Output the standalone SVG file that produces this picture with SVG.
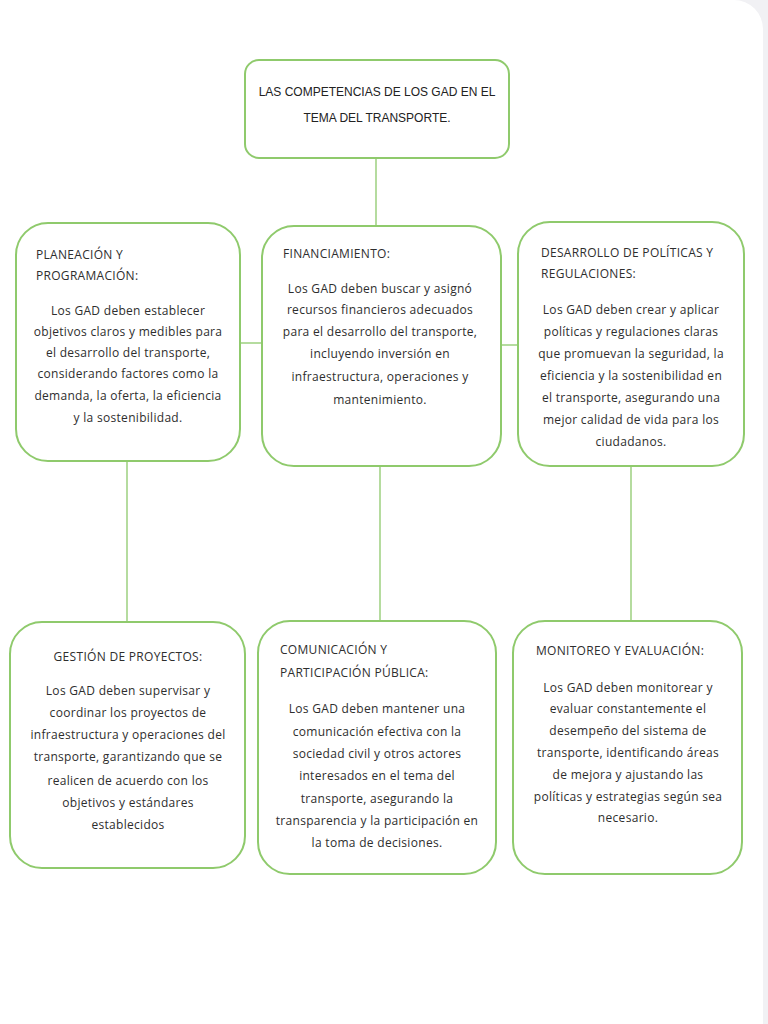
<svg xmlns="http://www.w3.org/2000/svg" width="768" height="1024" viewBox="0 0 768 1024">
<style>
.box{fill:#ffffff;stroke:#8fca6c;stroke-width:2}
.con{stroke:#a3d387;stroke-width:1.6;fill:none}
.t{font-family:"Open Sans","Liberation Sans",sans-serif;font-size:12px;fill:#2e2e2e;letter-spacing:0.3px}
.h{font-family:"Liberation Sans",Arial,sans-serif;font-size:12px;fill:#222222}
.c{text-anchor:middle}
</style>
<rect x="0" y="0" width="768" height="1024" fill="#f1f1f4"/>
<rect x="-40" y="0" width="803" height="1100" rx="29" fill="#ffffff"/>
<g id="connectors">
<line class="con" x1="376" y1="158" x2="376" y2="226"/>
<line class="con" x1="240" y1="343" x2="262" y2="343"/>
<line class="con" x1="501" y1="345" x2="518" y2="345"/>
<line class="con" x1="127" y1="461" x2="127" y2="622"/>
<line class="con" x1="380" y1="466" x2="380" y2="621"/>
<line class="con" x1="631" y1="466" x2="631" y2="621"/>
</g>
<g id="root">
<rect class="box" x="245" y="60" width="264" height="98" rx="14"/>
<text class="h c" x="377" y="96">LAS COMPETENCIAS DE LOS GAD EN EL</text>
<text class="h c" x="377" y="122">TEMA DEL TRANSPORTE.</text>
</g>
<g id="planeacion">
<rect class="box" x="16" y="223" width="224" height="238" rx="32"/>
<text class="t" x="36" y="259">PLANEACIÓN Y</text>
<text class="t" x="36" y="280">PROGRAMACIÓN:</text>
<text class="t c" x="128" y="315">Los GAD deben establecer</text>
<text class="t c" x="128" y="336">objetivos claros y medibles para</text>
<text class="t c" x="128" y="357">el desarrollo del transporte,</text>
<text class="t c" x="128" y="378">considerando factores como la</text>
<text class="t c" x="128" y="400">demanda, la oferta, la eficiencia</text>
<text class="t c" x="128" y="422">y la sostenibilidad.</text>
</g>
<g id="financiamiento">
<rect class="box" x="262" y="226" width="239" height="240" rx="32"/>
<text class="t" x="283" y="258">FINANCIAMIENTO:</text>
<text class="t c" x="380" y="293">Los GAD deben buscar y asignó</text>
<text class="t c" x="380" y="314">recursos financieros adecuados</text>
<text class="t c" x="380" y="336">para el desarrollo del transporte,</text>
<text class="t c" x="380" y="358">incluyendo inversión en</text>
<text class="t c" x="380" y="381">infraestructura, operaciones y</text>
<text class="t c" x="380" y="404">mantenimiento.</text>
</g>
<g id="desarrollo">
<rect class="box" x="518" y="222" width="226" height="244" rx="32"/>
<text class="t" x="541" y="257">DESARROLLO DE POLÍTICAS Y</text>
<text class="t" x="541" y="278">REGULACIONES:</text>
<text class="t c" x="631" y="314">Los GAD deben crear y aplicar</text>
<text class="t c" x="631" y="336">políticas y regulaciones claras</text>
<text class="t c" x="631" y="358">que promuevan la seguridad, la</text>
<text class="t c" x="631" y="380">eficiencia y la sostenibilidad en</text>
<text class="t c" x="631" y="402">el transporte, asegurando una</text>
<text class="t c" x="631" y="424">mejor calidad de vida para los</text>
<text class="t c" x="631" y="446">ciudadanos.</text>
</g>
<g id="gestion">
<rect class="box" x="10" y="622" width="235" height="246" rx="32"/>
<text class="t c" x="128" y="661">GESTIÓN DE PROYECTOS:</text>
<text class="t c" x="128" y="695">Los GAD deben supervisar y</text>
<text class="t c" x="128" y="717">coordinar los proyectos de</text>
<text class="t c" x="128" y="739">infraestructura y operaciones del</text>
<text class="t c" x="128" y="761">transporte, garantizando que se</text>
<text class="t c" x="128" y="785">realicen de acuerdo con los</text>
<text class="t c" x="128" y="807">objetivos y estándares</text>
<text class="t c" x="128" y="829">establecidos</text>
</g>
<g id="comunicacion">
<rect class="box" x="258" y="621" width="238" height="253" rx="32"/>
<text class="t" x="280" y="654">COMUNICACIÓN Y</text>
<text class="t" x="280" y="677">PARTICIPACIÓN PÚBLICA:</text>
<text class="t c" x="377" y="713">Los GAD deben mantener una</text>
<text class="t c" x="377" y="736">comunicación efectiva con la</text>
<text class="t c" x="377" y="758">sociedad civil y otros actores</text>
<text class="t c" x="377" y="780">interesados en el tema del</text>
<text class="t c" x="377" y="803">transporte, asegurando la</text>
<text class="t c" x="377" y="825">transparencia y la participación en</text>
<text class="t c" x="377" y="847">la toma de decisiones.</text>
</g>
<g id="monitoreo">
<rect class="box" x="513" y="621" width="229" height="253" rx="32"/>
<text class="t" x="536" y="655">MONITOREO Y EVALUACIÓN:</text>
<text class="t c" x="628" y="692">Los GAD deben monitorear y</text>
<text class="t c" x="628" y="713">evaluar constantemente el</text>
<text class="t c" x="628" y="735">desempeño del sistema de</text>
<text class="t c" x="628" y="757">transporte, identificando áreas</text>
<text class="t c" x="628" y="779">de mejora y ajustando las</text>
<text class="t c" x="628" y="801">políticas y estrategias según sea</text>
<text class="t c" x="628" y="822">necesario.</text>
</g>
</svg>
